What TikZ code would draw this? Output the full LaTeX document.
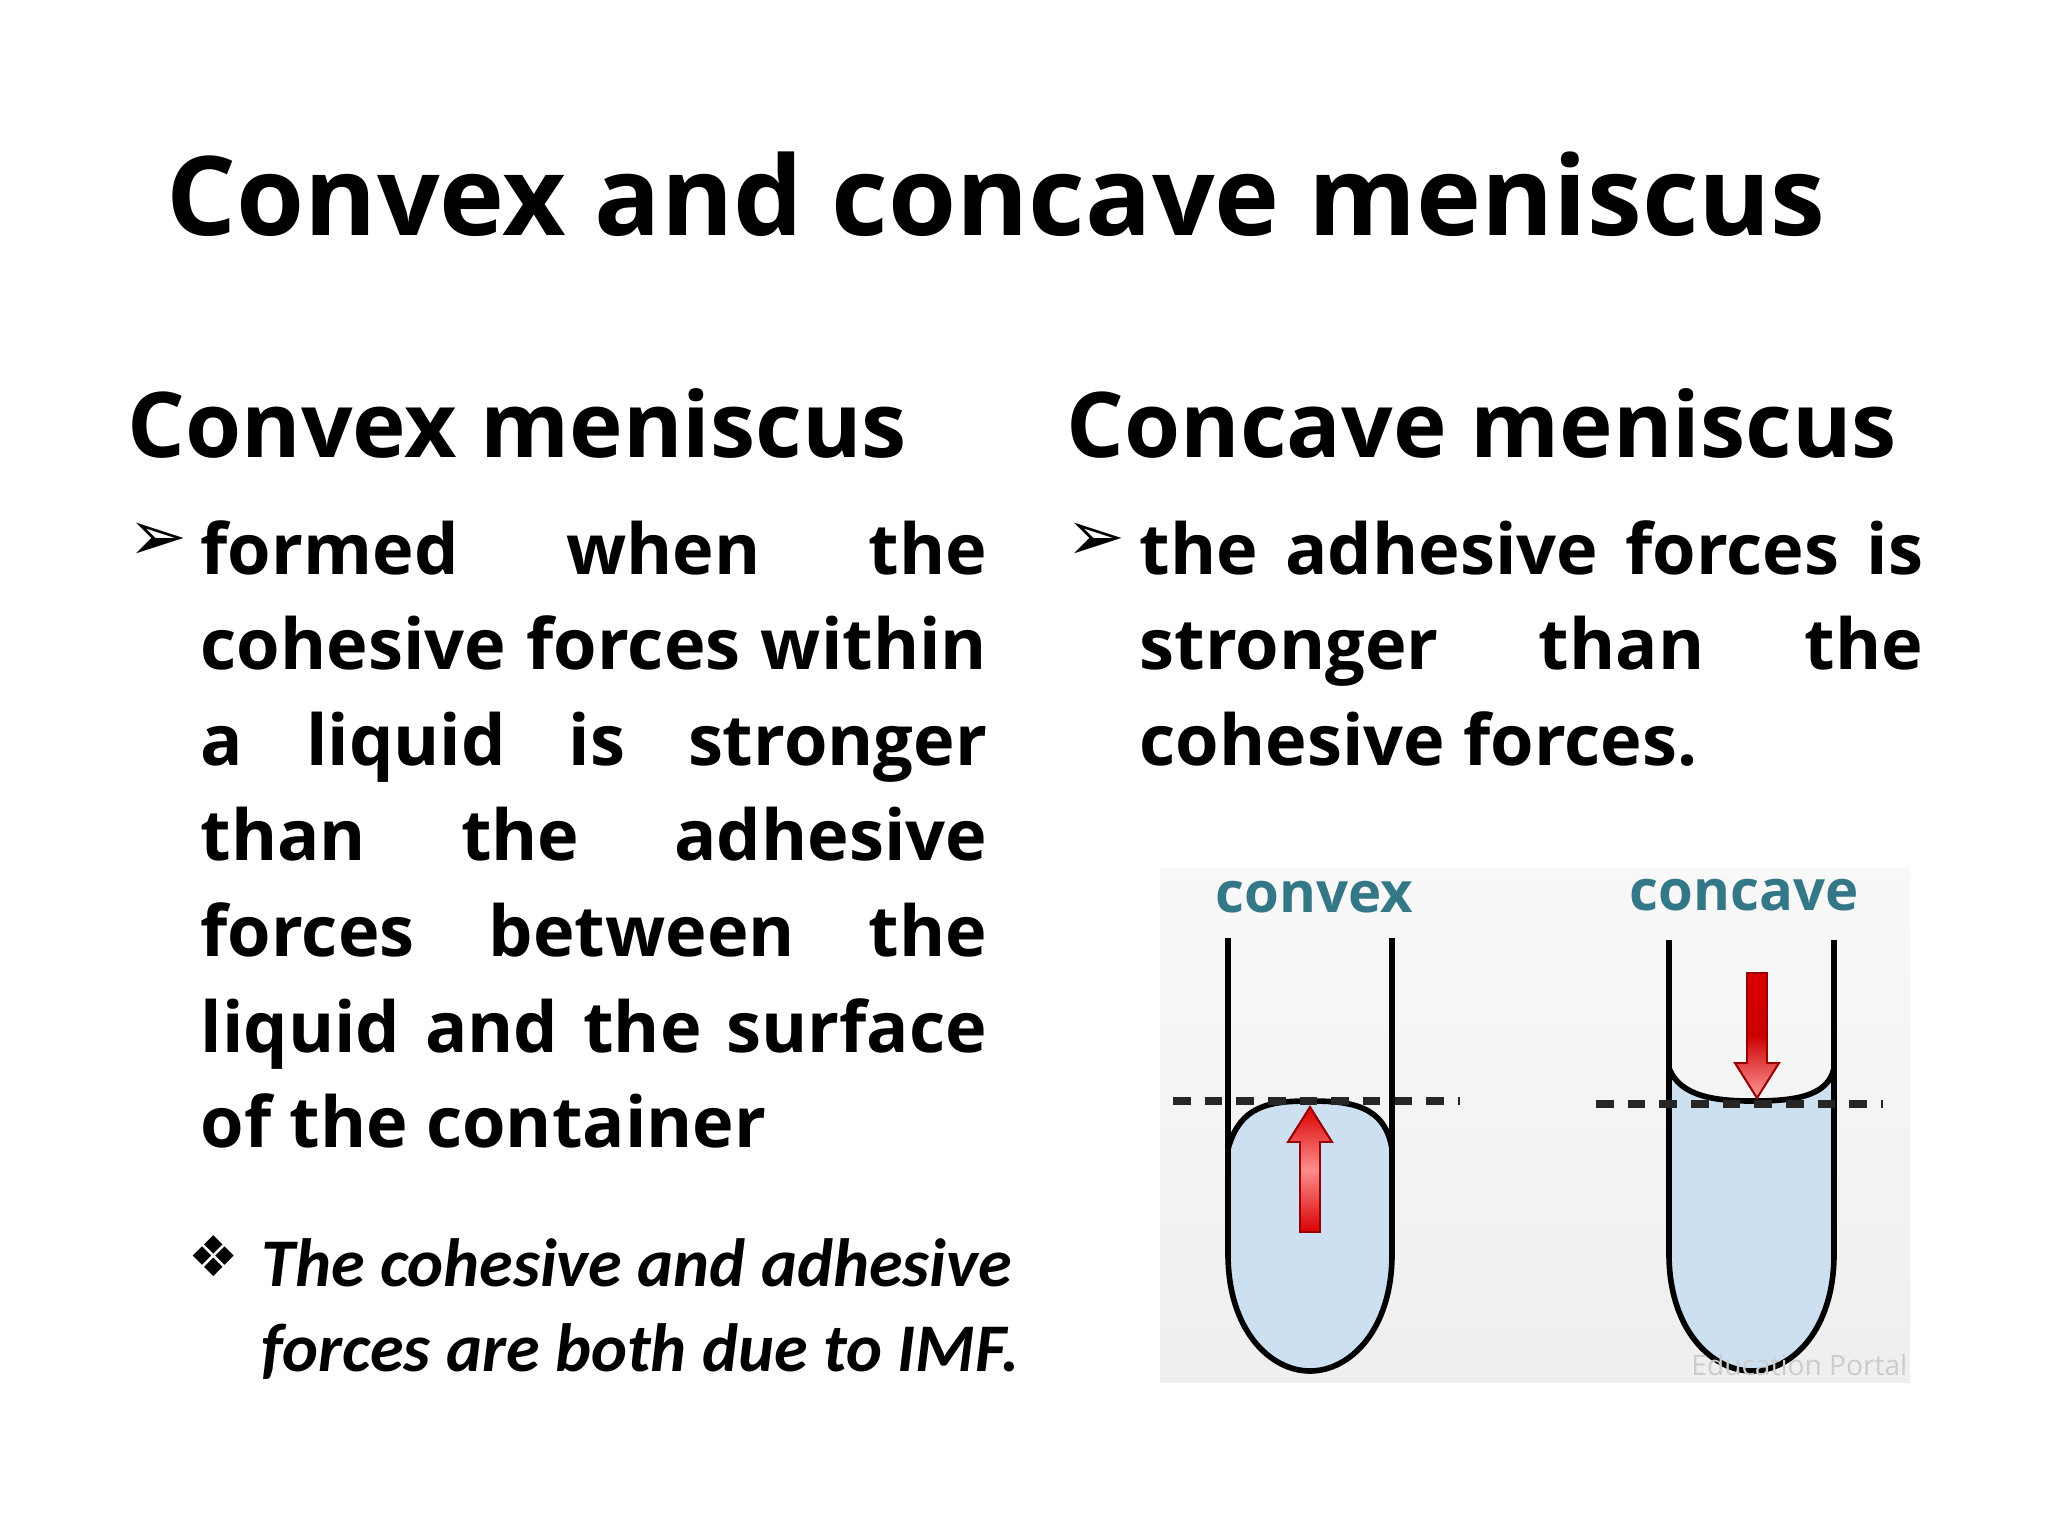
\documentclass[tikz,border=0pt]{standalone}
\usepackage{fontspec}
\setmainfont{Open Sans}
\newfontfamily\notefont{Carlito}
\newfontfamily\symfont{DejaVu Sans}
\definecolor{liq}{RGB}{204,224,242}
\definecolor{lab}{RGB}{52,120,135}
\tikzset{
  tube/.style={line width=1.6pt, black},
  dash line/.style={line width=2.2pt, dash pattern=on 5pt off 4pt, black!85},
  redarrow/.style={top color=red!85!black, bottom color=red!85!black, middle color=red!45!white, draw=red!60!black, line width=0.5pt},
  body/.style={anchor=base west, inner sep=0pt, align=justify, font=\bfseries\fontsize{20}{27.2}\selectfont},
  pic label/.style={font=\bfseries\fontsize{16}{20}\selectfont, text=lab, anchor=base},
  note/.style={anchor=base west, inner sep=0pt, font=\notefont\bfseries\itshape\fontsize{19.4}{24}\selectfont},
}
\begin{document}
\begin{tikzpicture}[x=0.01cm,y=-0.01cm]
\useasboundingbox[fill=white] (0,0) rectangle (2048,1536);
\node[anchor=base west, inner sep=0pt, font=\bfseries\fontsize{31.3}{38}\selectfont] (title) at (166,235) {Convex and concave meniscus};
\node[anchor=base west, inner sep=0pt, font=\bfseries\fontsize{25.8}{32}\selectfont] (h1) at (127,457) {Convex meniscus};
\node[anchor=base west, inner sep=0pt, font=\bfseries\fontsize{25.8}{32}\selectfont] (h2) at (1066,457) {Concave meniscus};
\node[anchor=base west, inner sep=0pt, font=\symfont\fontsize{20}{24}\selectfont] (b1) at (128,560) {➢};
\node[anchor=base west, inner sep=0pt, font=\symfont\fontsize{20}{24}\selectfont] (b2) at (1066,560) {➢};
\node[body, text width=7.86cm] (t1) at (200,574) {\hyphenpenalty=10000 formed when the\linebreak cohesive forces within\linebreak a liquid is stronger\linebreak than the adhesive\linebreak forces between the\linebreak liquid and the surface\linebreak of the container};
\node[body, text width=7.83cm] (t2) at (1139,574) {\hyphenpenalty=10000 the adhesive forces is\linebreak stronger than the\linebreak cohesive forces.};
\node[anchor=base west, inner sep=0pt, font=\symfont\fontsize{16}{20}\selectfont] (b3) at (188,1276) {❖};
\node[note] (n1) at (261,1286) {The cohesive and adhesive};
\node[note] (n2) at (261,1371) {forces are both due to IMF.};
% picture
\shade[top color=gray!5, bottom color=gray!13] (1160,868) rectangle (1910,1382);
% left tube
\fill[liq] (1228,1149) .. controls (1240,1105) and (1270,1101) .. (1310,1101) .. controls (1350,1101) and (1385,1105) .. (1392,1149) -- (1392,1254) .. controls (1392,1330) and (1350,1371) .. (1310,1371) .. controls (1270,1371) and (1228,1330) .. (1228,1254) -- cycle;
\draw[tube] (1228,938) -- (1228,1254) .. controls (1228,1330) and (1270,1371) .. (1310,1371) .. controls (1350,1371) and (1392,1330) .. (1392,1254) -- (1392,938);
\draw[tube] (1228,1149) .. controls (1240,1105) and (1270,1101) .. (1310,1101) .. controls (1350,1101) and (1385,1105) .. (1392,1149);
\coordinate (d1a) at (1173,1101); \coordinate (d1b) at (1460,1101);
\draw[dash line] (d1a) -- (d1b);
\shade[redarrow] (1300,1232) -- (1300,1142) -- (1288,1142) -- (1310,1107) -- (1332,1142) -- (1320,1142) -- (1320,1232) -- cycle;
\draw[red!60!black, line width=0.5pt] (1300,1232) -- (1300,1142) -- (1288,1142) -- (1310,1107) -- (1332,1142) -- (1320,1142) -- (1320,1232) -- cycle;
% right tube
\fill[liq] (1669,1068) .. controls (1680,1098) and (1720,1101) .. (1752,1101) .. controls (1790,1101) and (1828,1098) .. (1834,1068) -- (1834,1254) .. controls (1834,1330) and (1792,1371) .. (1752,1371) .. controls (1712,1371) and (1669,1330) .. (1669,1254) -- cycle;
\draw[tube] (1669,940) -- (1669,1254) .. controls (1669,1330) and (1712,1371) .. (1752,1371) .. controls (1792,1371) and (1834,1330) .. (1834,1254) -- (1834,940);
\draw[tube] (1669,1068) .. controls (1680,1098) and (1720,1101) .. (1752,1101) .. controls (1790,1101) and (1828,1098) .. (1834,1068);
\coordinate (d2a) at (1596,1104); \coordinate (d2b) at (1883,1104);
\draw[dash line] (d2a) -- (d2b);
\shade[redarrow, top color=red!85!black, bottom color=red!40!white, middle color=red!80!black] (1747,973) -- (1747,1063) -- (1735,1063) -- (1757,1098) -- (1779,1063) -- (1767,1063) -- (1767,973) -- cycle;
\draw[red!60!black, line width=0.5pt] (1747,973) -- (1747,1063) -- (1735,1063) -- (1757,1098) -- (1779,1063) -- (1767,1063) -- (1767,973) -- cycle;
\node[pic label] (l1) at (1314,912) {convex};
\node[pic label] (l2) at (1744,910) {concave};
\node[anchor=base east, inner sep=0pt, font=\fontsize{8}{10}\selectfont, text=gray!40] (wm) at (1908,1375) {Education Portal};
\end{tikzpicture}
\end{document}
